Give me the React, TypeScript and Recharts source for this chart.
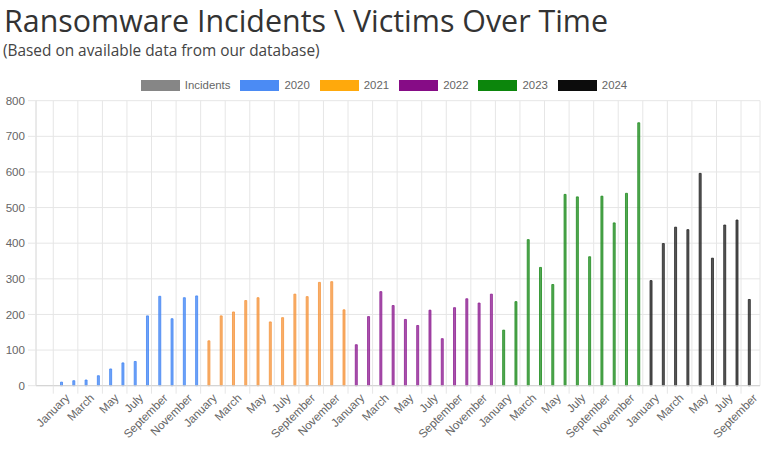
import React from "react";
import { BarChart, Bar, XAxis, YAxis, CartesianGrid, Cell } from "recharts";

const MONTHS = ["January","February","March","April","May","June","July","August","September","October","November","December"];

const V2020 = [10, 14, 16, 28, 47, 64, 68, 196, 251, 188, 247, 252];
const V2021 = [126, 196, 207, 239, 247, 179, 191, 257, 250, 290, 292, 213];
const V2022 = [115, 194, 264, 225, 186, 169, 212, 132, 219, 244, 232, 257];
const V2023 = [156, 236, 410, 332, 284, 537, 530, 362, 532, 457, 540, 738];
const V2024 = [295, 399, 445, 438, 596, 358, 451, 465, 242];

const LEGEND_NAMES = ["Incidents", "2020", "2021", "2022", "2023", "2024"];
const LEGEND_COLORS = ["#808080", "#4285F4", "#FFA500", "#800080", "#008000", "#000000"];
const BAR_COLORS = ["#4285F4", "#F5963E", "#8E1E92", "#1E8C1E", "#222222"];

const Y_TICKS = [0, 100, 200, 300, 400, 500, 600, 700, 800];

const TITLE = "Ransomware Incidents \\ Victims Over Time";
const SUBTITLE = "(Based on available data from our database)";

const SERIES = [V2020, V2021, V2022, V2023, V2024];

const data: { x: number; value: number; year: number; month: number }[] = [];
SERIES.forEach((vals, y) => {
  vals.forEach((v, m) => {
    data.push({ x: data.length, value: v, year: y, month: m });
  });
});

const TICK_SHIFT = -0.684;
const xTicks: number[] = [];
for (let k = 0; k * 2 < data.length; k++) xTicks.push(2 * k + TICK_SHIFT);

const tickLabel = (v: number) => {
  const idx = Math.round(v - TICK_SHIFT);
  const d = data[idx];
  return d ? MONTHS[d.month] : "";
};

const FONT = "'Liberation Sans', Arial, sans-serif";

const XTick = (props: any) => {
  const { x, y, payload } = props;
  const ax = x + 17;
  const ay = y + 5;
  return (
    <text
      x={ax}
      y={ay}
      textAnchor="end"
      fill="#666"
      fontSize={11.6}
      fontFamily={FONT}
      transform={`rotate(-45 ${ax} ${ay})`}
    >
      {tickLabel(payload.value)}
    </text>
  );
};

export default function App() {
  return (
    <div style={{ position: "absolute", left: 0, top: 0, width: 768, height: 449, background: "#fff", overflow: "hidden" }}>
      <div
        style={{
          position: "absolute",
          left: 4,
          top: 6,
          fontSize: 30.4,
          lineHeight: "30px",
          color: "#333",
          fontFamily: "'Open Sans', sans-serif",
          whiteSpace: "nowrap",
        }}
      >
        {TITLE}
      </div>
      <div
        style={{
          position: "absolute",
          left: 3,
          top: 43,
          fontSize: 15.4,
          lineHeight: "16px",
          color: "#444",
          fontFamily: "'Open Sans', sans-serif",
          whiteSpace: "nowrap",
        }}
      >
        {SUBTITLE}
      </div>
      <div
        style={{
          position: "absolute",
          left: 0,
          top: 79,
          width: 768,
          height: 12,
          display: "flex",
          justifyContent: "center",
          alignItems: "center",
          fontFamily: FONT,
          fontSize: 11.4,
          color: "#666",
        }}
      >
        {LEGEND_NAMES.map((n, i) => (
          <div key={n} style={{ display: "flex", alignItems: "center", marginRight: i < LEGEND_NAMES.length - 1 ? 10 : 0 }}>
            <div style={{ width: 37, height: 9, background: LEGEND_COLORS[i], border: `1px solid ${LEGEND_COLORS[i]}`, opacity: 0.95, marginRight: 5 }} />
            <span style={{ lineHeight: "12px" }}>{n}</span>
          </div>
        ))}
      </div>
      <div style={{ position: "absolute", left: 0, top: 0 }}>
        <BarChart
          width={768}
          height={449}
          data={data}
          margin={{ top: 100.7, right: 8, bottom: 0, left: 0 }}
        >
          <CartesianGrid stroke="#e6e6e6" />
          <XAxis
            dataKey="x"
            type="number"
            domain={[-2.09, 56.86]}
            ticks={xTicks}
            interval={0}
            height={63.3}
            tickSize={8}
            tickMargin={0}
            tickLine={{ stroke: "#e6e6e6" }}
            axisLine={{ stroke: "#d0d0d0" }}
            tick={<XTick />}
            allowDataOverflow
          />
          <YAxis
            domain={[0, 800]}
            ticks={Y_TICKS}
            interval={0}
            width={36}
            tickSize={8}
            tickMargin={3}
            tickLine={{ stroke: "#e6e6e6" }}
            axisLine={{ stroke: "#e0e0e0" }}
            tick={{ fill: "#666", fontSize: 11.6, fontFamily: FONT }}
          />
          <Bar dataKey="value" barSize={2} isAnimationActive={false}>
            {data.map((d) => (
              <Cell key={d.x} fill={BAR_COLORS[d.year]} fillOpacity={0.75} stroke={BAR_COLORS[d.year]} strokeWidth={0.8} />
            ))}
          </Bar>
        </BarChart>
      </div>
    </div>
  );
}
